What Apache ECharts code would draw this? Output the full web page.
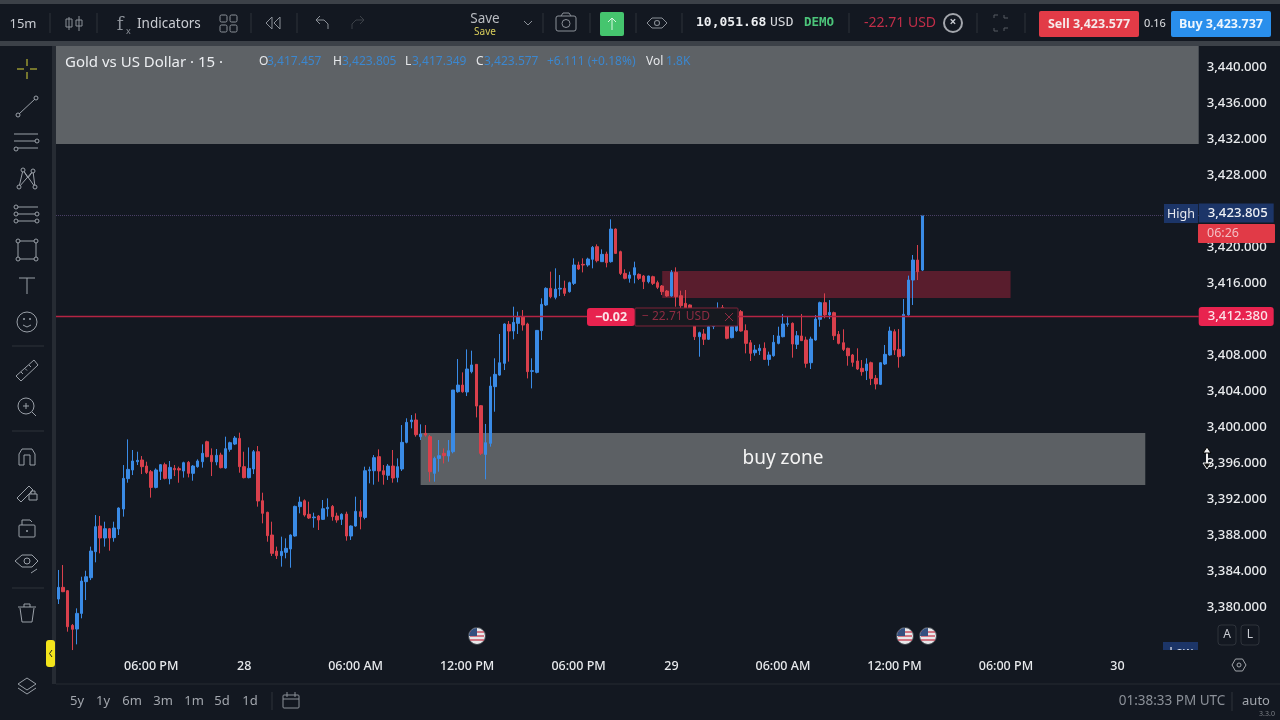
<!DOCTYPE html>
<html><head><meta charset="utf-8">
<style>html,body{margin:0;padding:0;background:#131821}#c{width:1280px;height:720px}</style>
<script src="https://cdn.jsdelivr.net/npm/echarts@6/dist/echarts.min.js"></script>
</head><body><div id="c"></div>
<script>
const opens=[3380.93,3382.23,3381.86,3378.01,3377.60,3379.34,3382.86,3383.30,3386.19,3389.04,
3387.71,3388.74,3387.75,3388.71,3390.93,3394.30,3395.26,3396.18,3396.37,3395.70,
3395.07,3393.33,3395.11,3395.85,3394.30,3395.44,3395.41,3395.15,3396.11,3394.89,
3395.63,3396.18,3398.40,3396.89,3396.15,3396.92,3395.48,3397.55,3398.14,3398.77,
3395.63,3394.41,3395.37,3397.29,3391.85,3390.56,3388.04,3386.26,3385.75,3386.12,
3386.49,3387.93,3391.19,3391.85,3390.34,3389.96,3390.15,3389.78,3390.96,3391.22,
3390.15,3389.78,3390.37,3387.93,3389.04,3390.63,3390.00,3395.18,3395.18,3396.74,
3395.18,3394.67,3395.70,3394.44,3395.37,3398.33,3400.62,3400.81,3398.96,3399.33,
3398.96,3394.89,3396.55,3397.11,3396.81,3397.29,3403.95,3404.69,3403.92,3406.18,
3406.99,3402.40,3396.99,3398.22,3404.51,3405.80,3407.10,3411.43,3410.69,3411.54,
3412.28,3411.47,3406.21,3406.10,3410.73,3413.58,3415.43,3414.43,3415.35,3415.43,
3415.06,3415.98,3418.02,3418.09,3418.02,3418.65,3420.05,3418.39,3419.24,3418.39,
3422.01,3419.50,3417.09,3416.54,3416.91,3416.98,3416.80,3416.17,3416.72,3416.06,
3415.69,3415.13,3414.58,3417.20,3414.61,3413.76,3413.58,3411.91,3410.06,3410.36,
3409.77,3411.2,3412.3,3413.3,3412.0,3409.95,3410.73,3412.84,3410.73,3409.39,
3408.28,3408.51,3408.77,3407.54,3407.95,3409.32,3410.06,3411.43,3411.54,3409.21,
3410.14,3409.69,3407.17,3409.69,3411.99,3413.84,3412.47,3412.73,3410.32,3409.39,
3408.77,3408.03,3407.36,3406.55,3406.29,3407.17,3405.43,3404.77,3407.03,3408.03,
3410.62,3408.65,3407.95,3412.47,3416.35,3418.57,3417.457];
const closes=[3382.23,3381.75,3377.86,3377.57,3379.34,3382.93,3383.41,3386.26,3388.97,3387.71,
3388.74,3387.71,3388.82,3391.04,3394.33,3395.33,3396.26,3396.33,3395.63,3394.99,
3393.33,3395.26,3395.85,3394.33,3395.55,3395.29,3395.26,3396.07,3394.89,3395.70,
3396.26,3397.11,3396.74,3396.18,3396.89,3395.52,3397.63,3398.29,3398.81,3395.63,
3394.41,3395.44,3397.29,3391.82,3390.45,3387.97,3386.01,3385.75,3386.23,3386.56,
3388.04,3391.22,3391.70,3390.26,3389.93,3390.04,3389.71,3390.96,3391.11,3390.08,
3389.71,3390.34,3387.93,3389.04,3390.67,3390.08,3395.18,3395.29,3396.63,3395.15,
3394.74,3395.70,3394.37,3395.63,3398.33,3400.55,3400.81,3399.18,3399.25,3399.14,
3395.07,3396.55,3396.85,3396.85,3397.40,3404.14,3404.69,3403.95,3406.47,3406.92,
3402.36,3397.11,3398.29,3404.58,3405.88,3407.17,3411.47,3410.69,3411.65,3412.21,
3411.36,3406.18,3406.29,3410.76,3413.65,3415.43,3414.50,3415.35,3415.43,3414.87,
3416.06,3418.02,3417.57,3418.02,3418.68,3419.98,3418.50,3419.20,3418.28,3422.01,
3419.31,3417.09,3416.54,3416.91,3417.72,3416.54,3416.17,3416.80,3415.98,3415.54,
3415.06,3414.58,3417.20,3414.50,3413.50,3412.65,3411.91,3410.06,3410.51,3409.77,
3411.17,3412.3,3413.2,3412.0,3409.88,3411.17,3411.9,3410.69,3409.32,3408.21,
3408.58,3408.77,3407.54,3408.03,3409.43,3410.14,3411.47,3411.50,3409.25,3410.17,
3409.62,3407.10,3409.80,3412.02,3413.84,3412.47,3412.76,3410.17,3409.32,3408.65,
3407.95,3407.21,3406.47,3406.18,3407.03,3405.43,3404.81,3407.17,3408.10,3410.69,
3408.58,3407.84,3412.54,3416.35,3418.57,3417.28,3423.50];
const lows=[3380.38,3381.7,3377.31,3375.27,3375.90,3378.79,3380.82,3383.04,3385.01,3386.01,
3386.75,3386.30,3387.30,3388.04,3390.08,3393.85,3394.70,3395.81,3394.81,3394.81,
3392.19,3393.22,3394.15,3394.22,3393.67,3394.59,3393.85,3394.41,3394.44,3394.07,
3395.52,3395.52,3396.66,3394.59,3395.78,3395.44,3395.41,3397.29,3398.03,3394.96,
3394.33,3394.33,3394.81,3391.19,3389.34,3387.30,3385.71,3385.38,3384.53,3385.45,
3384.41,3387.86,3390.45,3390.08,3389.82,3388.85,3388.60,3389.71,3390.08,3389.63,
3389.41,3389.15,3387.41,3387.49,3388.97,3388.67,3389.78,3393.78,3393.63,3393.96,
3393.63,3394.15,3393.85,3393.89,3395.15,3398.22,3399.88,3398.96,3398.59,3398.96,
3393.96,3393.96,3395.07,3395.99,3396.18,3397.11,3403.84,3403.84,3403.47,3405.99,
3401.10,3396.92,3394.22,3397.85,3401.73,3405.73,3406.36,3407.29,3409.77,3410.36,
3410.73,3405.43,3404.32,3405.99,3409.69,3413.47,3414.32,3414.21,3414.57,3414.57,
3414.95,3415.80,3417.46,3417.20,3417.83,3417.65,3418.31,3418.35,3417.76,3418.28,
3419.24,3416.91,3416.43,3416.06,3415.98,3416.35,3415.35,3415.98,3415.80,3415.35,
3414.69,3414.50,3414.50,3413.39,3413.21,3412.47,3411.73,3409.69,3407.84,3409.14,
3409.69,3410.9,3412.0,3411.5,3409.77,3409.88,3410.6,3410.62,3408.21,3407.36,
3407.95,3408.03,3407.47,3406.84,3407.84,3409.21,3409.99,3411.17,3407.73,3408.69,
3409.58,3406.62,3406.47,3409.62,3411.17,3412.10,3412.02,3409.69,3409.21,3408.47,
3406.84,3406.73,3406.36,3405.73,3405.25,3404.69,3404.21,3404.69,3406.92,3407.95,
3408.03,3406.62,3407.84,3412.39,3413.58,3416.35,3417.349];
const highs=[3384.16,3384.71,3381.93,3378.16,3379.90,3383.41,3384.08,3386.75,3390.26,3390.15,
3389.52,3388.82,3389.52,3391.11,3395.81,3398.66,3397.48,3397.29,3396.81,3396.18,
3395.26,3395.44,3395.92,3396.07,3396.26,3395.81,3395.63,3396.18,3396.26,3395.81,
3396.44,3398.11,3398.51,3397.66,3397.59,3397.18,3398.96,3398.40,3399.03,3399.40,
3397.29,3397.77,3397.48,3397.92,3392.74,3390.63,3389.52,3386.75,3387.86,3387.67,
3388.11,3391.30,3392.30,3392.00,3391.74,3390.52,3390.26,3391.93,3392.11,3391.37,
3390.52,3390.45,3390.63,3389.11,3392.30,3391.93,3395.63,3395.63,3396.92,3397.55,
3395.81,3395.92,3397.48,3396.55,3400.25,3401.00,3401.36,3401.55,3400.33,3400.25,
3399.14,3396.74,3398.59,3397.66,3398.59,3404.14,3407.58,3406.10,3408.65,3408.51,
3406.99,3402.47,3400.37,3405.62,3407.66,3410.36,3411.54,3411.80,3413.39,3412.84,
3413.02,3411.61,3407.66,3410.80,3414.32,3415.54,3417.28,3417.65,3416.91,3416.28,
3416.17,3418.76,3418.39,3418.76,3418.83,3420.13,3420.31,3419.76,3419.50,3423.09,
3422.09,3419.61,3417.54,3417.28,3418.39,3417.09,3416.91,3416.83,3416.83,3416.28,
3415.80,3415.24,3417.46,3417.76,3415.17,3415.24,3413.65,3412.1,3410.62,3410.91,
3411.3,3412.9,3413.87,3413.58,3412.3,3411.5,3412.1,3413.02,3411.43,3409.69,
3409.14,3409.21,3409.43,3408.40,3410.25,3411.17,3412.58,3412.28,3411.65,3410.69,
3412.58,3410.06,3410.06,3412.47,3413.95,3414.87,3414.13,3412.84,3410.69,3410.88,
3408.84,3408.14,3408.77,3407.47,3407.66,3407.29,3405.81,3407.21,3409.14,3411.17,
3410.88,3410.91,3414.24,3416.84,3419.13,3420.24,3423.58];
const tickIndex=[20,40,64,88,112,132,156,180,204,228];
const tickText=['06:00 PM','28','06:00 AM','12:00 PM','06:00 PM','29','06:00 AM','12:00 PM','06:00 PM','30'];
const barSlots=246;
const categories=Array.from({length:barSlots},(_,i)=>{const k=tickIndex.indexOf(i);return k>=0?tickText[k]:String(i);});
const positionPrice=3412.30, sessionHigh=3423.58;
const priceZones={top:[3431.45,3444],supply:[3414.36,3417.35],buy:[3393.6,3399.37]};
const zoneBars={supply:[130,205],buy:[78,234]};

const FONT='"Noto Sans"', FG='#c9ccd2', DIM='#8b9098';
const g=[];
const Z=100;
const R=(x,y,w,h,fill,r,stroke,z)=>g.push({type:'rect',z:z||Z,shape:{x,y,width:w,height:h,r:r||0},style:{fill:fill||'transparent',stroke:stroke||null,lineWidth:1},silent:true});
const L=(x1,y1,x2,y2,c,w)=>g.push({type:'line',z:Z+1,shape:{x1,y1,x2,y2},style:{stroke:c||DIM,lineWidth:w||1,fill:null},silent:true});
const C=(cx,cy,r,c,fill,w)=>g.push({type:'circle',z:Z+1,shape:{cx,cy,r},style:{stroke:c||null,fill:fill||'transparent',lineWidth:w||1},silent:true});
const P=(pts,c,w)=>g.push({type:'polyline',z:Z+1,shape:{points:pts},style:{stroke:c||DIM,lineWidth:w||1,fill:null},silent:true});
const PG=(pts,fill,c)=>g.push({type:'polygon',z:Z+1,shape:{points:pts},style:{fill:fill,stroke:c||null,lineWidth:1},silent:true});
const T=(x,y,s,o={})=>g.push({type:'text',z:Z+2,x,y:y+1,style:{text:s,fill:o.c||FG,font:`${o.w||'normal'} ${o.s||13}px ${o.f||FONT}`,textAlign:o.a||'left',textVerticalAlign:'middle'},silent:true});

// chrome backgrounds
R(0,0,1280,46,'#131821');
R(0,0,1280,4,'#3c4148');
R(0,41,1280,5,'#3c4148');
R(0,46,52,674,'#131821');
R(52,46,4,674,'#262b33');
R(0,684,1280,36,'#131821');
L(56,684,1280,684,'#262b33');

// top toolbar
T(23,23,'15m',{a:'center',s:13});
[50,97,251,297,543,590,636,682,849,977,1025].forEach(x=>L(x,13,x,33,'#2e333b'));
L(69,17,69,30,DIM);R(66,19,6,8,null,0,DIM);L(79,16,79,31,DIM);R(76,20,6,6,null,0,DIM);
T(120,24,'f',{a:'center',s:18,c:DIM,f:'"DejaVu Serif"'});T(126,30,'x',{s:9,c:DIM});
T(137,23,'Indicators',{s:13.5});
[[220,15],[230,15],[220,25],[230,25]].forEach(p=>R(p[0],p[1],7,7,null,1.5,DIM));
P([[272,17],[266,23],[272,29],[272,17]],DIM);P([[280,17],[274,23],[280,29],[280,17]],DIM);
P([[316,20],[320,16]],DIM);P([[316,20],[320,24]],DIM);P([[316,20],[324,20],[328,24],[328,29]],DIM);
P([[364,20],[360,16]],'#3c4148');P([[364,20],[360,24]],'#3c4148');P([[364,20],[356,20],[352,24],[352,29]],'#3c4148');
T(485,18,'Save',{a:'center',s:13.5,c:'#b9bcc2'});
T(485,31,'Save',{a:'center',s:10,c:'#d6cb5a'});
P([[524,21],[528,25],[532,21]],DIM);
R(556,16,20,15,null,2,DIM);C(566,23.5,4,DIM);L(561,16,563,13,DIM);L(563,13,569,13,DIM);L(569,13,571,16,DIM);
R(600,12,24,24,'#45c56e',2);L(612,18,612,30,'#d7f5e0');P([[608,22],[612,18],[616,22]],'#d7f5e0');
g.push({type:'ring',z:Z+1,shape:{cx:657,cy:23,r:3,r0:2},style:{fill:DIM},silent:true});
P([[647,23],[652,18],[662,18],[667,23],[662,28],[652,28],[647,23]],DIM);
T(696,22,'10,051.68',{s:13,w:'bold',c:'#eceef1',f:'"DejaVu Sans Mono"'});
T(770,22,'USD',{s:13,c:'#d8dade',f:'"DejaVu Sans Mono"'});
T(804,22,'DEMO',{s:12.5,w:'bold',c:'#4cc47a',f:'"DejaVu Sans Mono"'});
T(864,22,'-22.71 USD',{s:14,c:'#c22e49'});
C(953,23,9,'#a3a6ac',null,2);T(953,22,'×',{a:'center',s:12,c:'#c9ccd2',w:'bold'});
[[994,18,998,15],[1004,15,1008,18],[994,28,998,31],[1004,31,1008,28]].forEach(a=>P([[a[0],a[1]],[a[0],a[3]],[a[2],a[3]]],'#565b63'));
R(1039,11,100,26,'#e23b47',2);T(1089,23,'Sell 3,423.577',{a:'center',s:12.5,w:'bold',c:'#f6e9ea'});
T(1155,23,'0.16',{a:'center',s:11,c:'#e0e2e5'});
R(1171,11,100,26,'#2a8fec',2);T(1221,23,'Buy 3,423.737',{a:'center',s:12.5,w:'bold',c:'#eef6fd'});

// legend
T(65,61.5,'Gold vs US Dollar · 15 ·',{s:15,c:'#eceef1'});
[[259,'O'],[333,'H'],[405,'L'],[476,'C'],[646,'Vol']].forEach(a=>T(a[0],61,a[1],{s:12,c:'#e6e8eb'}));
[[267,'3,417.457'],[342,'3,423.805'],[412,'3,417.349'],[484,'3,423.577'],[547,'+6.111 (+0.18%)'],[666,'1.8K']].forEach(a=>T(a[0],61,a[1],{s:12,c:'#3b87cf'}));

// left tools
const X=27, ic='#9aa0a8';
L(X-10,69,X-3,69,'#d8d43a');L(X+3,69,X+10,69,'#d8d43a');L(X,59,X,66,'#d8d43a');L(X,72,X,79,'#d8d43a');
L(X-8,114,X+8,99,ic);C(X-9,115,2,ic);C(X+9,98,2,ic);
[134,141,148].forEach(y=>L(X-13,y,X+11,y,ic));C(X+10,141,2,ic,'#131821');C(X-11,149,2,ic,'#131821');
P([[X-8,187],[X-4,170],[X+1,178],[X+6,171],[X+8,187]],ic);P([[X-8,187],[X+6,171]],ic);P([[X-4,170],[X+8,187]],ic);
[[X-8,187],[X-4,170],[X+6,171],[X+8,187]].forEach(p=>C(p[0],p[1],2,ic,'#131821'));
[207,214,221].forEach(y=>L(X-11,y,X+11,y,ic));[[X-11,207],[X-11,214],[X-11,221],[X+10,214],[X+10,221]].forEach(p=>C(p[0],p[1],2,ic,'#131821'));
R(X-9,241,18,18,null,0,ic);[[X-9,241],[X+9,241],[X-9,259],[X+9,259]].forEach(p=>C(p[0],p[1],2,ic,'#131821'));
L(X-8,278,X+8,278,ic);L(X,278,X,294,ic);
C(X,322,10,ic);C(X-3,319,1,null,ic);C(X+3,319,1,null,ic);P([[X-4,325],[X,327],[X+4,325]],ic);
[346,431,588].forEach(y=>L(12,y,44,y,'#2e333b'));
PG([[X-11,376],[X+7,360],[X+11,365],[X-6,381]],'transparent',ic);
[[-6,372,-4,374],[-2,368.5,0,370.5],[2,365,4,367]].forEach(a=>L(X+a[0],a[1],X+a[2],a[3],ic));
C(X-1,406,8,ic);L(X+5,412,X+9,416,ic);L(X-4,406,X+2,406,ic);L(X-1,403,X-1,409,ic);
P([[X-8,465],[X-8,454],[X-5,449],[X+5,449],[X+8,454],[X+8,465],[X+3,465],[X+3,455],[X-3,455],[X-3,465],[X-8,465]],ic);
PG([[X-10,498],[X+2,486],[X+6,490],[X-6,502]],'transparent',ic);R(X+2,494,8,6,null,0,ic);P([[X+4,494],[X+4,491],[X+8,491],[X+8,494]],ic);
R(X-8,525,16,12,null,1,ic);P([[X-5,525],[X-5,520],[X+3,520],[X+5,522]],ic);C(X,531,1,null,ic);
P([[X-12,561],[X-5,555],[X+5,555],[X+11,561],[X+5,567],[X-5,567],[X-12,561]],ic);C(X,561,3,ic);L(X+4,573,X+10,569,ic);
P([[X-7,608],[X-5,622],[X+5,622],[X+7,608]],ic);L(X-9,607,X+9,607,ic);P([[X-3,607],[X-3,604],[X+3,604],[X+3,607]],ic);
R(46,640,9,27,'#f3e41c',3);P([[52,650],[49.5,653.5],[52,657]],'#222',1);
PG([[X,678],[X+9,684],[X,690],[X-9,684]],'#131821',ic);P([[X-9,688],[X,694],[X+9,688]],ic);

// bottom bar
[['5y',77],['1y',103],['6m',132],['3m',163],['1m',194],['5d',222],['1d',250]].forEach(a=>T(a[1],700,a[0],{a:'center',s:13,c:'#a2a6ad'}));
L(272,692,272,710,'#2e333b');
R(283,695,16,13,null,1,DIM);L(283,699,299,699,DIM);L(287,692,287,697,DIM);L(295,692,295,697,DIM);
T(1172,700,'01:38:33 PM UTC',{a:'center',s:13.5,c:'#8b9098'});
L(1232,692,1232,711,'#2e333b');
T(1256,700,'auto',{a:'center',s:13,c:'#a2a6ad'});
T(1267,713,'3.3.0',{a:'center',s:7,c:'#7c8087'});

// axis widgets
R(1218,625,18,20,null,3,'#2e333b');T(1227,634,'A',{a:'center',s:12,c:'#c9ccd2'});
R(1241,625,18,20,null,3,'#2e333b');T(1250,634,'L',{a:'center',s:12,c:'#c9ccd2'});
PG([[1232,665],[1235.5,659],[1242.5,659],[1246,665],[1242.5,671],[1235.5,671]],'transparent','#a3a6ac');C(1239,665,2,'#a3a6ac');
R(1198,224,77,19,'#e13a47',1);T(1207,232,'06:26',{s:12.5,c:'#f3bfc4'});
R(1164,204,34,19,'#1c3568');T(1181,213,'High',{a:'center',s:12.5,c:'#e6e8ee'});
R(1163,642,35,8,'#1c3568');T(1181,651,'Low',{a:'center',s:12.5,c:'#e6e8ee'});
R(1160,650,40,9,'#131821',0,null,Z+3);
// position label
R(587,308,48,18,'#e8234f',3);T(611,316,'−0.02',{a:'center',s:12.5,w:'bold',c:'#fbe3e8'});
R(635,308,103,18,'#16191f',1,'#7d2238');T(642,316,'− 22.71 USD',{s:12,c:'#8d2c42'});
L(725,313,733,321,'#8d2c42');L(733,313,725,321,'#8d2c42');
// event flags
[477,905,928].forEach(x=>{C(x,636,8.5,'#3b4048','#e7e8ea',1);
 [632,636,640].forEach(y=>L(x-7,y,x+7,y,'#c9485a',1.4));
 g.push({type:'sector',z:Z+1,shape:{cx:x,cy:636,r:8,startAngle:Math.PI,endAngle:Math.PI*1.5},style:{fill:'#34507f'},silent:true});});
// cursor
L(1207,449,1207,467,'#f2f2f2',2);PG([[1207,447],[1203,453],[1211,453]],'#f2f2f2','#000');PG([[1207,469],[1203,463],[1211,463]],'#111','#f2f2f2');

const ohlc=opens.map((o,i)=>[o,closes[i],lows[i],highs[i]]);
const chart=echarts.init(document.getElementById('c'),null,{renderer:'canvas',width:1280,height:720});
chart.setOption({
 animation:false,backgroundColor:'#131821',
 textStyle:{fontFamily:FONT},
 grid:{left:56,width:1142.7,top:31,height:648.5,containLabel:false},
 xAxis:{type:'category',data:categories,boundaryGap:true,
  axisLine:{show:false},axisTick:{show:false},splitLine:{show:false},
  axisLabel:{inside:true,margin:7,color:'#e8eaed',fontSize:12.5,fontWeight:500,fontFamily:FONT,
   interval:(i)=>tickIndex.includes(i),hideOverlap:false}},
 yAxis:{type:'value',position:'right',min:3372,max:3444,interval:4,scale:true,
  axisLine:{show:false},axisTick:{show:false},splitLine:{show:false},
  axisLabel:{margin:8,color:'#e8eaed',fontSize:13.2,fontWeight:500,fontFamily:FONT,align:'left',padding:[2,0,0,0],
   formatter:v=>(v<3380||v>3440)?'':v.toLocaleString('en-US',{minimumFractionDigits:3,maximumFractionDigits:3})}},
 series:[{type:'candlestick',name:'XAUUSD',data:ohlc,barWidth:3,z:6,clip:true,
  itemStyle:{color:'#3a8be6',color0:'#d9404c',borderColor:'#3a8be6',borderColor0:'#d9404c',borderWidth:1},
  markArea:{silent:true,z:1,label:{show:false},
   data:[
    [{yAxis:priceZones.top[0],itemStyle:{color:'#5e6266'}},{yAxis:priceZones.top[1]}],
    [{xAxis:zoneBars.buy[0],yAxis:priceZones.buy[0],name:'buy zone',itemStyle:{color:'#5c6064'},
      label:{show:true,position:'inside',color:'#f4f4f4',fontSize:19,fontFamily:FONT,formatter:'buy zone'}},
     {xAxis:zoneBars.buy[1],yAxis:priceZones.buy[1]}],
    [{xAxis:zoneBars.supply[0],yAxis:priceZones.supply[0],itemStyle:{color:'rgba(122,32,52,0.68)'}},
     {xAxis:zoneBars.supply[1],yAxis:priceZones.supply[1]}]
   ]},
  markLine:{silent:true,symbol:'none',z:7,animation:false,
   data:[
    {yAxis:positionPrice,lineStyle:{color:'#b52444',width:1.3,type:'solid'},
     label:{show:true,position:'end',distance:0,formatter:'3,412.380',color:'#fbe3e8',fontSize:13.2,fontWeight:500,fontFamily:FONT,
      backgroundColor:'#e8234f',borderRadius:3,padding:[3,6,3,9]}},
    {yAxis:sessionHigh,lineStyle:{color:'#4a3f66',width:1,type:'dotted'},
     label:{show:true,position:'end',distance:0,offset:[0,-2],formatter:'3,423.805',color:'#eef0f5',fontSize:13.2,fontWeight:500,fontFamily:FONT,
      backgroundColor:'#1c3568',padding:[3,6,3,9]}}
   ]}
 }],
 graphic:{elements:g}
});
</script></body></html>
